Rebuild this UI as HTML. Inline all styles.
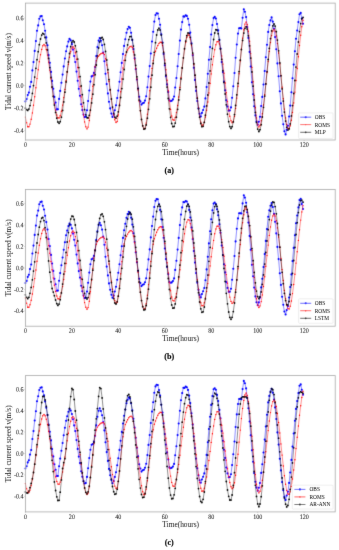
<!DOCTYPE html>
<html><head><meta charset="utf-8"><title>Tidal current speed</title>
<style>
html,body{margin:0;padding:0;background:#fff}
svg{display:block}
text{font-family:"Liberation Serif","DejaVu Serif",serif;fill:#222}
.tk{font-size:6.4px;fill:#111;stroke:#111;stroke-width:0.04px}
.ax{font-size:7.4px;fill:#111}
.cap{font-size:8.1px;font-weight:bold;fill:#000;stroke:#000;stroke-width:0.12px}
.lg{font-size:5.35px;fill:#000}
</style></head><body>
<svg width="339" height="550" viewBox="0 0 339 550">
<defs>
<marker id="mb" markerWidth="4" markerHeight="4" refX="2" refY="2" markerUnits="userSpaceOnUse"><circle cx="2" cy="2" r="1.05" fill="#0000ff"/></marker>
<marker id="mr" markerWidth="4" markerHeight="4" refX="2" refY="2" markerUnits="userSpaceOnUse"><circle cx="2" cy="2" r="0.68" fill="#ff0000"/></marker>
<marker id="mk" markerWidth="4" markerHeight="4" refX="2" refY="2" markerUnits="userSpaceOnUse"><circle cx="2" cy="2" r="0.88" fill="#000"/></marker>
<filter id="bl" x="0" y="0" width="339" height="550" filterUnits="userSpaceOnUse"><feConvolveMatrix order="3" kernelMatrix="0.0113 0.0838 0.0113 0.0838 0.6196 0.0838 0.0113 0.0838 0.0113" divisor="1" edgeMode="duplicate" preserveAlpha="false"/></filter>
<filter id="bt" x="0" y="0" width="339" height="550" filterUnits="userSpaceOnUse"><feConvolveMatrix order="3" kernelMatrix="0.004 0.046 0.004 0.046 0.8 0.046 0.004 0.046 0.004" divisor="1" edgeMode="duplicate" preserveAlpha="false"/></filter>
</defs>
<rect width="339" height="550" fill="#fff"/>

<g filter="url(#bl)">
<polyline fill="none" stroke="#0000ff" stroke-width="0.45" marker-start="url(#mb)" marker-mid="url(#mb)" marker-end="url(#mb)" points="25.4,101.4 26.6,99.1 27.7,95.0 28.9,92.6 30.0,86.8 31.2,81.9 32.4,70.4 33.5,62.1 34.7,50.9 35.9,41.1 37.0,30.7 38.2,25.4 39.3,18.8 40.5,16.4 41.7,16.0 42.8,20.3 44.0,24.2 45.1,30.8 46.3,37.4 47.5,45.2 48.6,55.1 49.8,62.7 51.0,71.9 52.1,80.9 53.3,88.7 54.4,96.9 55.6,102.6 56.8,109.4 57.9,109.3 59.1,98.9 60.2,90.9 61.4,82.7 62.6,74.6 63.7,66.4 64.9,58.5 66.1,51.2 67.2,46.4 68.4,41.6 69.5,38.9 70.7,40.3 71.9,44.1 73.0,49.6 74.2,56.0 75.3,62.0 76.5,71.6 77.7,80.7 78.8,88.8 80.0,95.7 81.2,104.3 82.3,110.0 83.5,114.5 84.6,117.1 85.8,116.8 87.0,110.3 88.1,101.0 89.3,90.5 90.4,81.6 91.6,76.4 92.8,75.7 93.9,72.9 95.1,67.0 96.3,56.1 97.4,47.0 98.6,40.6 99.7,38.1 100.9,40.8 102.1,45.3 103.2,52.6 104.4,61.3 105.5,73.7 106.7,84.1 107.9,93.4 109.0,101.8 110.2,108.4 111.4,113.6 112.5,116.9 113.7,114.5 114.8,110.2 116.0,105.2 117.2,98.0 118.3,90.6 119.5,81.8 120.6,72.3 121.8,62.9 123.0,54.1 124.1,45.9 125.3,39.3 126.5,32.8 127.6,29.1 128.8,26.7 129.9,27.8 131.1,32.8 132.3,40.1 133.4,49.1 134.6,58.3 135.7,69.0 136.9,79.5 138.1,88.6 139.2,96.8 140.4,101.4 141.5,104.6 142.7,103.2 143.9,102.7 145.0,100.6 146.2,96.3 147.4,87.3 148.5,76.6 149.7,66.1 150.8,53.5 152.0,41.5 153.2,31.7 154.3,21.6 155.5,15.0 156.6,13.3 157.8,13.5 159.0,18.8 160.1,24.7 161.3,34.4 162.5,42.6 163.6,53.9 164.8,65.2 165.9,76.2 167.1,84.4 168.3,91.9 169.4,100.2 170.6,101.1 171.7,100.7 172.9,99.4 174.1,96.5 175.2,87.5 176.4,78.0 177.6,66.3 178.7,54.0 179.9,40.6 181.0,29.6 182.2,22.1 183.4,16.4 184.5,16.6 185.7,15.3 186.8,15.9 188.0,18.7 189.2,24.7 190.3,32.6 191.5,43.2 192.7,55.1 193.8,67.7 195.0,79.9 196.1,90.9 197.3,101.0 198.5,108.4 199.6,113.8 200.8,116.5 201.9,112.9 203.1,110.0 204.3,106.6 205.4,98.4 206.6,87.0 207.8,73.8 208.9,59.8 210.1,47.0 211.2,34.5 212.4,25.1 213.6,18.1 214.7,16.9 215.9,18.5 217.0,24.0 218.2,30.4 219.4,39.8 220.5,48.5 221.7,62.0 222.9,72.1 224.0,81.6 225.2,90.2 226.3,100.3 227.5,106.5 228.7,110.6 229.8,110.5 231.0,107.4 232.1,97.8 233.3,86.3 234.5,73.0 235.6,57.7 236.8,44.5 238.0,33.6 239.1,28.3 240.3,28.1 241.4,28.5 242.6,17.8 243.8,9.2 244.9,11.7 246.1,17.1 247.2,27.1 248.4,37.9 249.6,51.9 250.7,66.5 251.9,82.3 253.1,94.2 254.2,106.2 255.4,115.4 256.5,121.5 257.7,124.7 258.9,121.7 260.0,116.7 261.2,106.0 262.3,96.9 263.5,84.5 264.7,71.0 265.8,57.2 267.0,44.8 268.2,31.9 269.3,25.0 270.5,20.4 271.6,17.4 272.8,21.6 274.0,28.8 275.1,37.1 276.3,49.3 277.4,63.4 278.6,76.3 279.8,91.2 280.9,103.4 282.1,115.7 283.3,124.2 284.4,131.3 285.6,134.4 286.7,129.7 287.9,125.8 289.1,116.5 290.2,105.6 291.4,92.3 292.5,78.3 293.7,64.6 294.9,51.2 296.0,38.7 297.2,30.5 298.4,22.1 299.5,14.3 300.7,12.9 301.8,18.6 303.0,23.7"/>
<polyline fill="none" stroke="#ff0000" stroke-width="0.45" marker-start="url(#mr)" marker-mid="url(#mr)" marker-end="url(#mr)" points="25.4,117.1 26.6,122.7 27.7,126.8 28.9,126.8 30.0,124.1 31.2,119.3 32.4,112.9 33.5,105.3 34.7,96.7 35.9,87.7 37.0,78.6 38.2,69.8 39.3,61.8 40.5,54.8 41.7,49.4 42.8,45.8 44.0,44.5 45.1,45.8 46.3,49.5 47.5,55.1 48.6,62.1 49.8,70.1 51.0,78.7 52.1,87.5 53.3,95.9 54.4,103.6 55.6,110.1 56.8,115.0 57.9,117.8 59.1,118.0 60.2,115.7 61.4,111.2 62.6,105.1 63.7,97.6 64.9,89.4 66.1,80.8 67.2,72.3 68.4,64.3 69.5,57.3 70.7,51.7 71.9,48.1 73.0,46.8 74.2,48.3 75.3,52.7 76.5,59.2 77.7,67.5 78.8,76.9 80.0,86.8 81.2,96.9 82.3,106.4 83.5,114.9 84.6,121.9 85.8,126.7 87.0,128.9 88.1,127.1 89.3,120.5 90.4,110.5 91.6,98.6 92.8,86.3 93.9,75.2 95.1,66.6 96.3,60.8 97.4,57.8 98.6,56.1 99.7,54.8 100.9,53.8 102.1,53.2 103.2,53.0 104.4,54.5 105.5,58.7 106.7,64.9 107.9,72.7 109.0,81.5 110.2,90.6 111.4,99.6 112.5,107.8 113.7,114.8 114.8,119.8 116.0,122.5 117.2,121.5 118.3,114.9 119.5,104.3 120.6,91.7 121.8,78.9 123.0,68.0 124.1,60.4 125.3,55.2 126.5,52.4 127.6,50.0 128.8,48.1 129.9,46.8 131.1,46.2 132.3,47.4 133.4,52.0 134.6,59.2 135.7,68.4 136.9,78.9 138.1,90.0 139.2,101.0 140.4,111.0 141.5,119.6 142.7,125.8 143.9,129.1 145.0,128.4 146.2,123.1 147.4,114.2 148.5,103.0 149.7,90.8 150.8,78.8 152.0,68.4 153.2,60.6 154.3,54.9 155.5,51.3 156.6,48.2 157.8,45.5 159.0,43.4 160.1,42.2 161.3,42.3 162.5,45.5 163.6,51.6 164.8,59.9 165.9,69.7 167.1,80.2 168.3,90.8 169.4,100.8 170.6,109.4 171.7,116.0 172.9,119.8 174.1,120.2 175.2,117.6 176.4,112.6 177.6,105.5 178.7,97.0 179.9,87.5 181.0,77.6 182.2,67.6 183.4,58.1 184.5,49.6 185.7,42.5 186.8,37.5 188.0,34.9 189.2,35.3 190.3,39.0 191.5,45.6 192.7,54.3 193.8,64.5 195.0,75.5 196.1,86.9 197.3,97.8 198.5,107.8 199.6,116.1 200.8,122.1 201.9,125.3 203.1,125.0 204.3,122.1 205.4,117.0 206.6,110.2 207.8,102.0 208.9,92.9 210.1,83.4 211.2,73.9 212.4,64.8 213.6,56.6 214.7,49.8 215.9,44.7 217.0,41.8 218.2,41.5 219.4,44.0 220.5,49.0 221.7,55.9 222.9,64.1 224.0,73.3 225.2,83.0 226.3,92.6 227.5,101.6 228.7,109.6 229.8,116.2 231.0,120.7 232.1,122.7 233.3,121.4 234.5,116.4 235.6,108.4 236.8,98.1 238.0,86.3 239.1,73.7 240.3,60.9 241.4,48.9 242.6,38.2 243.8,29.7 244.9,24.1 246.1,22.0 247.2,24.5 248.4,31.2 249.6,41.2 250.7,53.6 251.9,67.4 253.1,81.7 254.2,95.5 255.4,107.8 256.5,117.9 257.7,124.6 258.9,127.0 260.0,125.4 261.2,120.8 262.3,113.8 263.5,105.0 264.7,94.8 265.8,83.8 267.0,72.5 268.2,61.6 269.3,51.4 270.5,42.5 271.6,35.6 272.8,31.0 274.0,29.3 275.1,31.1 276.3,36.0 277.4,43.6 278.6,53.0 279.8,63.9 280.9,75.5 282.1,87.3 283.3,98.7 284.4,109.1 285.6,117.9 286.7,124.4 287.9,128.2 289.1,128.6 290.2,125.7 291.4,120.2 292.5,112.4 293.7,102.9 294.9,92.1 296.0,80.5 297.2,68.5 298.4,56.7 299.5,45.5 300.7,35.3 301.8,26.7 303.0,20.2"/>
<polyline fill="none" stroke="#000" stroke-width="0.45" marker-start="url(#mk)" marker-mid="url(#mk)" marker-end="url(#mk)" points="25.4,108.1 26.6,109.7 27.7,110.4 28.9,109.1 30.0,105.6 31.2,100.2 32.4,93.4 33.5,85.6 34.7,77.1 35.9,68.3 37.0,59.7 38.2,51.7 39.3,44.7 40.5,39.0 41.7,35.1 42.8,33.3 44.0,34.1 45.1,37.5 46.3,42.9 47.5,50.0 48.6,58.4 49.8,67.6 51.0,77.3 52.1,87.0 53.3,96.4 54.4,105.0 55.6,112.4 56.8,118.2 57.9,122.0 59.1,123.3 60.2,121.7 61.4,117.2 62.6,110.4 63.7,101.9 64.9,92.2 66.1,81.9 67.2,71.7 68.4,62.0 69.5,53.5 70.7,46.7 71.9,42.2 73.0,40.6 74.2,42.0 75.3,45.8 76.5,51.7 77.7,59.1 78.8,67.6 80.0,76.6 81.2,85.9 82.3,94.7 83.5,102.8 84.6,109.7 85.8,114.8 87.0,117.7 88.1,118.0 89.3,115.3 90.4,110.1 91.6,102.9 92.8,94.2 93.9,84.7 95.1,74.7 96.3,65.0 97.4,55.9 98.6,48.0 99.7,42.0 100.9,38.2 102.1,37.3 103.2,39.5 104.4,44.4 105.5,51.4 106.7,60.0 107.9,69.7 109.0,79.7 110.2,89.7 111.4,99.0 112.5,107.1 113.7,113.3 114.8,117.2 116.0,118.2 117.2,116.2 118.3,111.8 119.5,105.4 120.6,97.5 121.8,88.6 123.0,79.1 124.1,69.5 125.3,60.3 126.5,51.9 127.6,44.9 128.8,39.6 129.9,36.6 131.1,36.4 132.3,39.7 133.4,46.1 134.6,54.9 135.7,65.3 136.9,76.8 138.1,88.6 139.2,100.1 140.4,110.6 141.5,119.4 142.7,125.8 143.9,129.1 145.0,128.7 146.2,124.9 147.4,118.2 148.5,109.3 149.7,98.8 150.8,87.2 152.0,75.2 153.2,63.4 154.3,52.3 155.5,42.7 156.6,35.0 157.8,30.0 159.0,28.2 160.1,30.0 161.3,35.1 162.5,42.8 163.6,52.4 164.8,63.4 165.9,75.2 167.1,87.1 168.3,98.5 169.4,108.8 170.6,117.3 171.7,123.5 172.9,126.7 174.1,126.4 175.2,123.1 176.4,117.2 177.6,109.3 178.7,99.9 179.9,89.6 181.0,78.8 182.2,68.0 183.4,57.8 184.5,48.7 185.7,41.2 186.8,35.7 188.0,33.0 189.2,33.4 190.3,37.3 191.5,44.1 192.7,53.1 193.8,63.7 195.0,75.2 196.1,86.9 197.3,98.3 198.5,108.6 199.6,117.2 200.8,123.5 201.9,126.7 203.1,126.3 204.3,122.3 205.4,115.2 206.6,105.9 207.8,95.0 208.9,83.0 210.1,70.9 211.2,59.1 212.4,48.4 213.6,39.5 214.7,33.0 215.9,29.6 217.0,30.0 218.2,33.7 219.4,40.2 220.5,49.0 221.7,59.3 222.9,70.6 224.0,82.4 225.2,94.0 226.3,104.8 227.5,114.2 228.7,121.7 229.8,126.6 231.0,128.4 232.1,126.7 233.3,121.9 234.5,114.6 235.6,105.4 236.8,94.8 238.0,83.4 239.1,71.6 240.3,60.2 241.4,49.6 242.6,40.4 243.8,33.1 244.9,28.3 246.1,26.6 247.2,29.1 248.4,35.8 249.6,45.8 250.7,58.1 251.9,71.9 253.1,86.2 254.2,100.0 255.4,112.4 256.5,122.4 257.7,129.1 258.9,131.5 260.0,129.7 261.2,124.7 262.3,117.0 263.5,107.3 264.7,96.1 265.8,84.0 267.0,71.6 268.2,59.5 269.3,48.3 270.5,38.6 271.6,30.9 272.8,25.8 274.0,24.0 275.1,26.1 276.3,31.7 277.4,40.1 278.6,50.8 279.8,62.9 280.9,75.8 282.1,88.8 283.3,101.1 284.4,112.1 285.6,121.1 286.7,127.3 287.9,130.1 289.1,128.9 290.2,123.9 291.4,115.9 292.5,105.6 293.7,93.5 294.9,80.5 296.0,67.1 297.2,54.0 298.4,42.0 299.5,31.6 300.7,23.6 301.8,18.7 303.0,17.5"/>
<rect x="25.4" y="3.1" width="309.8" height="136.9" fill="none" stroke="#a8a8a8" stroke-width="0.8"/>
<line x1="25.4" y1="140.0" x2="25.4" y2="141.2" stroke="#a8a8a8" stroke-width="0.5"/>
<line x1="71.9" y1="140.0" x2="71.9" y2="141.2" stroke="#a8a8a8" stroke-width="0.5"/>
<line x1="118.3" y1="140.0" x2="118.3" y2="141.2" stroke="#a8a8a8" stroke-width="0.5"/>
<line x1="164.8" y1="140.0" x2="164.8" y2="141.2" stroke="#a8a8a8" stroke-width="0.5"/>
<line x1="211.2" y1="140.0" x2="211.2" y2="141.2" stroke="#a8a8a8" stroke-width="0.5"/>
<line x1="257.7" y1="140.0" x2="257.7" y2="141.2" stroke="#a8a8a8" stroke-width="0.5"/>
<line x1="304.2" y1="140.0" x2="304.2" y2="141.2" stroke="#a8a8a8" stroke-width="0.5"/>
<line x1="24.2" y1="18.1" x2="25.4" y2="18.1" stroke="#a8a8a8" stroke-width="0.5"/>
<line x1="24.2" y1="40.6" x2="25.4" y2="40.6" stroke="#a8a8a8" stroke-width="0.5"/>
<line x1="24.2" y1="63.1" x2="25.4" y2="63.1" stroke="#a8a8a8" stroke-width="0.5"/>
<line x1="24.2" y1="85.6" x2="25.4" y2="85.6" stroke="#a8a8a8" stroke-width="0.5"/>
<line x1="24.2" y1="108.1" x2="25.4" y2="108.1" stroke="#a8a8a8" stroke-width="0.5"/>
<line x1="24.2" y1="130.6" x2="25.4" y2="130.6" stroke="#a8a8a8" stroke-width="0.5"/>
<rect x="298.6" y="112.9" width="34.4" height="25.6" rx="0.8" fill="#fff" fill-opacity="0.8" stroke="#ddd" stroke-width="0.5"/>
<polyline fill="none" stroke="#0000ff" stroke-width="0.65" marker-mid="url(#mb)" points="300.2,117.2 305.7,117.2 311.2,117.2"/>
<polyline fill="none" stroke="#ff0000" stroke-width="0.65" marker-mid="url(#mr)" points="300.2,124.6 305.7,124.6 311.2,124.6"/>
<polyline fill="none" stroke="#000" stroke-width="0.65" marker-mid="url(#mk)" points="300.2,132.3 305.7,132.3 311.2,132.3"/>
<polyline fill="none" stroke="#0000ff" stroke-width="0.45" marker-start="url(#mb)" marker-mid="url(#mb)" marker-end="url(#mb)" points="25.4,283.0 26.6,280.9 27.7,276.9 28.9,274.7 30.0,269.1 31.2,264.5 32.4,253.5 33.5,245.6 34.7,234.9 35.9,225.6 37.0,215.6 38.2,210.6 39.3,204.3 40.5,202.0 41.7,201.6 42.8,205.7 44.0,209.5 45.1,215.8 46.3,222.1 47.5,229.5 48.6,239.0 49.8,246.1 51.0,254.9 52.1,263.5 53.3,270.9 54.4,278.8 55.6,284.2 56.8,290.7 57.9,290.6 59.1,280.7 60.2,273.1 61.4,265.2 62.6,257.5 63.7,249.7 64.9,242.2 66.1,235.2 67.2,230.6 68.4,226.1 69.5,223.5 70.7,224.8 71.9,228.4 73.0,233.6 74.2,239.8 75.3,245.5 76.5,254.6 77.7,263.4 78.8,271.1 80.0,277.6 81.2,285.8 82.3,291.2 83.5,295.5 84.6,298.1 85.8,297.7 87.0,291.5 88.1,282.7 89.3,272.6 90.4,264.2 91.6,259.2 92.8,258.6 93.9,255.9 95.1,250.3 96.3,239.9 97.4,231.2 98.6,225.1 99.7,222.7 100.9,225.3 102.1,229.6 103.2,236.5 104.4,244.8 105.5,256.7 106.7,266.6 107.9,275.4 109.0,283.4 110.2,289.8 111.4,294.7 112.5,297.8 113.7,295.5 114.8,291.5 116.0,286.7 117.2,279.8 118.3,272.8 119.5,264.3 120.6,255.3 121.8,246.3 123.0,237.9 124.1,230.2 125.3,223.8 126.5,217.7 127.6,214.1 128.8,211.8 129.9,212.9 131.1,217.7 132.3,224.6 133.4,233.2 134.6,242.0 135.7,252.2 136.9,262.2 138.1,270.9 139.2,278.7 140.4,283.0 141.5,286.1 142.7,284.8 143.9,284.3 145.0,282.3 146.2,278.2 147.4,269.6 148.5,259.4 149.7,249.4 150.8,237.4 152.0,226.0 153.2,216.6 154.3,207.0 155.5,200.7 156.6,199.1 157.8,199.3 159.0,204.3 160.1,209.9 161.3,219.2 162.5,227.0 163.6,237.8 164.8,248.5 165.9,259.1 167.1,266.9 168.3,274.0 169.4,282.0 170.6,282.8 171.7,282.4 172.9,281.1 174.1,278.4 175.2,269.9 176.4,260.7 177.6,249.6 178.7,237.9 179.9,225.1 181.0,214.6 182.2,207.4 183.4,202.0 184.5,202.2 185.7,201.0 186.8,201.5 188.0,204.2 189.2,209.9 190.3,217.5 191.5,227.6 192.7,239.0 193.8,251.0 195.0,262.6 196.1,273.1 197.3,282.7 198.5,289.7 199.6,294.9 200.8,297.4 201.9,294.1 203.1,291.3 204.3,288.0 205.4,280.2 206.6,269.4 207.8,256.8 208.9,243.4 210.1,231.2 211.2,219.2 212.4,210.3 213.6,203.6 214.7,202.5 215.9,204.1 217.0,209.2 218.2,215.3 219.4,224.3 220.5,232.7 221.7,245.5 222.9,255.1 224.0,264.2 225.2,272.4 226.3,282.1 227.5,287.9 228.7,291.8 229.8,291.7 231.0,288.8 232.1,279.7 233.3,268.7 234.5,256.0 235.6,241.4 236.8,228.8 238.0,218.4 239.1,213.3 240.3,213.2 241.4,213.5 242.6,203.4 243.8,195.2 244.9,197.6 246.1,202.7 247.2,212.3 248.4,222.6 249.6,235.9 250.7,249.8 251.9,264.8 253.1,276.2 254.2,287.6 255.4,296.4 256.5,302.2 257.7,305.3 258.9,302.4 260.0,297.6 261.2,287.4 262.3,278.8 263.5,267.0 264.7,254.1 265.8,240.9 267.0,229.1 268.2,216.8 269.3,210.2 270.5,205.8 271.6,203.0 272.8,207.0 274.0,213.9 275.1,221.8 276.3,233.4 277.4,246.9 278.6,259.1 279.8,273.3 280.9,284.9 282.1,296.7 283.3,304.8 284.4,311.5 285.6,314.5 286.7,310.1 287.9,306.3 289.1,297.5 290.2,287.0 291.4,274.4 292.5,261.1 293.7,247.9 294.9,235.2 296.0,223.3 297.2,215.5 298.4,207.4 299.5,200.0 300.7,198.7 301.8,204.1 303.0,209.0"/>
<polyline fill="none" stroke="#ff0000" stroke-width="0.45" marker-start="url(#mr)" marker-mid="url(#mr)" marker-end="url(#mr)" points="25.4,298.0 26.6,303.3 27.7,307.3 28.9,307.3 30.0,304.7 31.2,300.2 32.4,294.0 33.5,286.7 34.7,278.6 35.9,270.0 37.0,261.3 38.2,253.0 39.3,245.3 40.5,238.7 41.7,233.5 42.8,230.1 44.0,228.8 45.1,230.1 46.3,233.6 47.5,238.9 48.6,245.6 49.8,253.3 51.0,261.5 52.1,269.8 53.3,277.9 54.4,285.2 55.6,291.4 56.8,296.0 57.9,298.7 59.1,298.9 60.2,296.7 61.4,292.4 62.6,286.6 63.7,279.5 64.9,271.6 66.1,263.4 67.2,255.3 68.4,247.7 69.5,241.0 70.7,235.7 71.9,232.2 73.0,231.0 74.2,232.5 75.3,236.6 76.5,242.9 77.7,250.7 78.8,259.7 80.0,269.2 81.2,278.8 82.3,287.9 83.5,296.0 84.6,302.6 85.8,307.2 87.0,309.2 88.1,307.6 89.3,301.3 90.4,291.8 91.6,280.4 92.8,268.7 93.9,258.1 95.1,249.9 96.3,244.3 97.4,241.5 98.6,239.9 99.7,238.6 100.9,237.7 102.1,237.1 103.2,236.9 104.4,238.3 105.5,242.3 106.7,248.3 107.9,255.7 109.0,264.0 110.2,272.8 111.4,281.3 112.5,289.2 113.7,295.8 114.8,300.6 116.0,303.2 117.2,302.3 118.3,296.0 119.5,285.9 120.6,273.8 121.8,261.6 123.0,251.2 124.1,244.0 125.3,239.0 126.5,236.4 127.6,234.1 128.8,232.2 129.9,231.0 131.1,230.5 132.3,231.6 133.4,235.9 134.6,242.8 135.7,251.6 136.9,261.7 138.1,272.2 139.2,282.6 140.4,292.3 141.5,300.4 142.7,306.3 143.9,309.4 145.0,308.8 146.2,303.7 147.4,295.2 148.5,284.6 149.7,272.9 150.8,261.5 152.0,251.6 153.2,244.2 154.3,238.7 155.5,235.3 156.6,232.3 157.8,229.7 159.0,227.8 160.1,226.7 161.3,226.8 162.5,229.8 163.6,235.6 164.8,243.5 165.9,252.8 167.1,262.8 168.3,273.0 169.4,282.5 170.6,290.7 171.7,297.0 172.9,300.6 174.1,301.0 175.2,298.5 176.4,293.7 177.6,287.0 178.7,278.9 179.9,269.8 181.0,260.3 182.2,250.8 183.4,241.8 184.5,233.7 185.7,226.9 186.8,222.1 188.0,219.6 189.2,220.0 190.3,223.6 191.5,229.8 192.7,238.1 193.8,247.8 195.0,258.4 196.1,269.2 197.3,279.7 198.5,289.2 199.6,297.1 200.8,302.8 201.9,305.8 203.1,305.6 204.3,302.8 205.4,298.0 206.6,291.4 207.8,283.6 208.9,275.0 210.1,265.9 211.2,256.8 212.4,248.2 213.6,240.4 214.7,233.8 215.9,229.0 217.0,226.2 218.2,226.0 219.4,228.4 220.5,233.1 221.7,239.6 222.9,247.5 224.0,256.3 225.2,265.5 226.3,274.6 227.5,283.3 228.7,290.9 229.8,297.1 231.0,301.4 232.1,303.4 233.3,302.1 234.5,297.4 235.6,289.8 236.8,279.9 238.0,268.7 239.1,256.6 240.3,244.5 241.4,233.0 242.6,222.8 243.8,214.7 244.9,209.3 246.1,207.4 247.2,209.7 248.4,216.1 249.6,225.7 250.7,237.5 251.9,250.6 253.1,264.2 254.2,277.4 255.4,289.2 256.5,298.8 257.7,305.2 258.9,307.5 260.0,305.9 261.2,301.6 262.3,294.9 263.5,286.5 264.7,276.8 265.8,266.3 267.0,255.6 268.2,245.1 269.3,235.4 270.5,226.9 271.6,220.3 272.8,215.9 274.0,214.3 275.1,216.0 276.3,220.8 277.4,227.9 278.6,237.0 279.8,247.3 280.9,258.4 282.1,269.6 283.3,280.5 284.4,290.4 285.6,298.8 286.7,305.0 287.9,308.6 289.1,309.0 290.2,306.3 291.4,301.0 292.5,293.6 293.7,284.5 294.9,274.2 296.0,263.1 297.2,251.7 298.4,240.4 299.5,229.7 300.7,220.1 301.8,211.9 303.0,205.6"/>
<polyline fill="none" stroke="#000" stroke-width="0.45" marker-start="url(#mk)" marker-mid="url(#mk)" marker-end="url(#mk)" points="25.4,294.8 26.6,297.4 27.7,298.7 28.9,297.3 30.0,293.3 31.2,287.4 32.4,279.8 33.5,271.1 34.7,261.8 35.9,252.3 37.0,243.0 38.2,234.5 39.3,227.2 40.5,221.6 41.7,218.2 42.8,217.3 44.0,220.6 45.1,227.7 46.3,237.5 47.5,249.0 48.6,260.9 49.8,272.2 51.0,281.8 52.1,288.5 53.3,292.1 54.4,295.7 55.6,300.0 56.8,303.7 57.9,305.4 59.1,304.1 60.2,299.7 61.4,292.9 62.6,284.1 63.7,274.1 64.9,263.4 66.1,252.5 67.2,242.0 68.4,232.6 69.5,224.8 70.7,219.1 71.9,216.1 73.0,216.4 74.2,219.5 75.3,225.0 76.5,232.4 77.7,241.0 78.8,250.6 80.0,260.5 81.2,270.2 82.3,279.3 83.5,287.2 84.6,293.5 85.8,297.6 87.0,299.1 88.1,297.6 89.3,293.5 90.4,287.3 91.6,279.3 92.8,270.2 93.9,260.5 95.1,250.5 96.3,240.8 97.4,231.9 98.6,224.3 99.7,218.4 100.9,214.8 102.1,213.9 103.2,216.3 104.4,221.8 105.5,229.6 106.7,239.2 107.9,250.0 109.0,261.2 110.2,272.3 111.4,282.6 112.5,291.6 113.7,298.6 114.8,302.9 116.0,304.0 117.2,301.6 118.3,296.2 119.5,288.4 120.6,278.9 121.8,268.3 123.0,257.1 124.1,246.0 125.3,235.5 126.5,226.3 127.6,219.0 128.8,214.2 129.9,212.4 131.1,214.2 132.3,219.2 133.4,226.8 134.6,236.4 135.7,247.3 136.9,258.9 138.1,270.7 139.2,282.0 140.4,292.2 141.5,300.6 142.7,306.7 143.9,309.9 145.0,309.5 146.2,305.5 147.4,298.5 148.5,289.2 149.7,278.2 150.8,266.1 152.0,253.5 153.2,241.1 154.3,229.6 155.5,219.5 156.6,211.5 157.8,206.3 159.0,204.4 160.1,206.3 161.3,211.6 162.5,219.7 163.6,229.9 164.8,241.5 165.9,253.9 167.1,266.5 168.3,278.5 169.4,289.4 170.6,298.4 171.7,304.9 172.9,308.2 174.1,307.9 175.2,303.9 176.4,297.1 177.6,287.9 178.7,277.0 179.9,265.1 181.0,252.7 182.2,240.6 183.4,229.2 184.5,219.3 185.7,211.4 186.8,206.2 188.0,204.4 189.2,206.4 190.3,211.9 191.5,220.3 192.7,230.9 193.8,243.0 195.0,255.9 196.1,268.9 197.3,281.4 198.5,292.7 199.6,302.0 200.8,308.8 201.9,312.3 203.1,311.8 204.3,307.0 205.4,298.8 206.6,287.8 207.8,275.1 208.9,261.3 210.1,247.4 211.2,234.1 212.4,222.3 213.6,212.9 214.7,206.6 215.9,204.4 217.0,206.3 218.2,211.7 219.4,219.9 220.5,230.3 221.7,242.3 222.9,255.2 224.0,268.4 225.2,281.4 226.3,293.3 227.5,303.8 228.7,312.0 229.8,317.4 231.0,319.3 232.1,317.3 233.3,311.6 234.5,303.0 235.6,292.2 236.8,279.8 238.0,266.6 239.1,253.1 240.3,240.1 241.4,228.3 242.6,218.3 243.8,210.8 244.9,206.5 246.1,206.1 247.2,209.6 248.4,216.4 249.6,225.6 250.7,236.6 251.9,248.6 253.1,260.7 254.2,272.4 255.4,282.8 256.5,291.1 257.7,296.7 258.9,298.7 260.0,296.9 261.2,291.9 262.3,284.4 263.5,274.9 264.7,264.1 265.8,252.5 267.0,240.9 268.2,229.7 269.3,219.6 270.5,211.2 271.6,205.1 272.8,202.0 274.0,202.4 275.1,206.6 276.3,213.8 277.4,223.5 278.6,234.8 279.8,247.2 280.9,259.9 282.1,272.3 283.3,283.7 284.4,293.3 285.6,300.6 286.7,304.7 287.9,305.1 289.1,301.5 290.2,294.5 291.4,284.8 292.5,273.3 293.7,260.5 294.9,247.4 296.0,234.5 297.2,222.7 298.4,212.6 299.5,205.0 300.7,200.6 301.8,200.1 303.0,202.2"/>
<rect x="25.4" y="189.4" width="309.8" height="136.8" fill="none" stroke="#a8a8a8" stroke-width="0.8"/>
<line x1="25.4" y1="326.2" x2="25.4" y2="327.4" stroke="#a8a8a8" stroke-width="0.5"/>
<line x1="71.9" y1="326.2" x2="71.9" y2="327.4" stroke="#a8a8a8" stroke-width="0.5"/>
<line x1="118.3" y1="326.2" x2="118.3" y2="327.4" stroke="#a8a8a8" stroke-width="0.5"/>
<line x1="164.8" y1="326.2" x2="164.8" y2="327.4" stroke="#a8a8a8" stroke-width="0.5"/>
<line x1="211.2" y1="326.2" x2="211.2" y2="327.4" stroke="#a8a8a8" stroke-width="0.5"/>
<line x1="257.7" y1="326.2" x2="257.7" y2="327.4" stroke="#a8a8a8" stroke-width="0.5"/>
<line x1="304.2" y1="326.2" x2="304.2" y2="327.4" stroke="#a8a8a8" stroke-width="0.5"/>
<line x1="24.2" y1="203.6" x2="25.4" y2="203.6" stroke="#a8a8a8" stroke-width="0.5"/>
<line x1="24.2" y1="225.1" x2="25.4" y2="225.1" stroke="#a8a8a8" stroke-width="0.5"/>
<line x1="24.2" y1="246.5" x2="25.4" y2="246.5" stroke="#a8a8a8" stroke-width="0.5"/>
<line x1="24.2" y1="268.0" x2="25.4" y2="268.0" stroke="#a8a8a8" stroke-width="0.5"/>
<line x1="24.2" y1="289.5" x2="25.4" y2="289.5" stroke="#a8a8a8" stroke-width="0.5"/>
<line x1="24.2" y1="310.9" x2="25.4" y2="310.9" stroke="#a8a8a8" stroke-width="0.5"/>
<rect x="298.6" y="298.8" width="34.4" height="24.5" rx="0.8" fill="#fff" fill-opacity="0.8" stroke="#ddd" stroke-width="0.5"/>
<polyline fill="none" stroke="#0000ff" stroke-width="0.65" marker-mid="url(#mb)" points="300.2,303.3 305.7,303.3 311.2,303.3"/>
<polyline fill="none" stroke="#ff0000" stroke-width="0.65" marker-mid="url(#mr)" points="300.2,310.7 305.7,310.7 311.2,310.7"/>
<polyline fill="none" stroke="#000" stroke-width="0.65" marker-mid="url(#mk)" points="300.2,318.3 305.7,318.3 311.2,318.3"/>
<polyline fill="none" stroke="#0000ff" stroke-width="0.45" marker-start="url(#mb)" marker-mid="url(#mb)" marker-end="url(#mb)" points="25.4,468.5 26.6,466.3 27.7,462.4 28.9,460.2 30.0,454.6 31.2,450.0 32.4,439.0 33.5,431.1 34.7,420.5 35.9,411.2 37.0,401.3 38.2,396.2 39.3,390.0 40.5,387.7 41.7,387.3 42.8,391.4 44.0,395.2 45.1,401.4 46.3,407.7 47.5,415.1 48.6,424.5 49.8,431.7 51.0,440.4 52.1,449.0 53.3,456.4 54.4,464.3 55.6,469.7 56.8,476.1 57.9,476.0 59.1,466.2 60.2,458.6 61.4,450.7 62.6,443.0 63.7,435.2 64.9,427.7 66.1,420.8 67.2,416.2 68.4,411.7 69.5,409.1 70.7,410.5 71.9,414.0 73.0,419.2 74.2,425.4 75.3,431.1 76.5,440.1 77.7,448.9 78.8,456.6 80.0,463.1 81.2,471.3 82.3,476.7 83.5,481.0 84.6,483.5 85.8,483.1 87.0,476.9 88.1,468.2 89.3,458.1 90.4,449.7 91.6,444.7 92.8,444.1 93.9,441.5 95.1,435.8 96.3,425.4 97.4,416.8 98.6,410.7 99.7,408.3 100.9,411.0 102.1,415.2 103.2,422.1 104.4,430.4 105.5,442.2 106.7,452.1 107.9,460.9 109.0,468.9 110.2,475.2 111.4,480.1 112.5,483.3 113.7,481.0 114.8,476.9 116.0,472.2 117.2,465.3 118.3,458.3 119.5,449.9 120.6,440.8 121.8,431.9 123.0,423.5 124.1,415.8 125.3,409.5 126.5,403.3 127.6,399.8 128.8,397.5 129.9,398.5 131.1,403.3 132.3,410.2 133.4,418.8 134.6,427.6 135.7,437.7 136.9,447.7 138.1,456.4 139.2,464.2 140.4,468.5 141.5,471.6 142.7,470.3 143.9,469.8 145.0,467.7 146.2,463.7 147.4,455.1 148.5,444.9 149.7,435.0 150.8,423.0 152.0,411.6 153.2,402.2 154.3,392.7 155.5,386.4 156.6,384.8 157.8,385.0 159.0,390.0 160.1,395.6 161.3,404.8 162.5,412.6 163.6,423.3 164.8,434.1 165.9,444.6 167.1,452.4 168.3,459.5 169.4,467.4 170.6,468.3 171.7,467.8 172.9,466.6 174.1,463.9 175.2,455.3 176.4,446.2 177.6,435.1 178.7,423.5 179.9,410.7 181.0,400.2 182.2,393.1 183.4,387.7 184.5,387.9 185.7,386.6 186.8,387.2 188.0,389.9 189.2,395.6 190.3,403.1 191.5,413.2 192.7,424.5 193.8,436.5 195.0,448.1 196.1,458.6 197.3,468.2 198.5,475.2 199.6,480.3 200.8,482.8 201.9,479.5 203.1,476.7 204.3,473.4 205.4,465.7 206.6,454.9 207.8,442.3 208.9,429.0 210.1,416.8 211.2,404.9 212.4,396.0 213.6,389.3 214.7,388.2 215.9,389.8 217.0,394.9 218.2,401.0 219.4,409.9 220.5,418.3 221.7,431.1 222.9,440.7 224.0,449.7 225.2,457.9 226.3,467.5 227.5,473.4 228.7,477.3 229.8,477.1 231.0,474.2 232.1,465.1 233.3,454.2 234.5,441.5 235.6,427.0 236.8,414.4 238.0,404.0 239.1,399.0 240.3,398.8 241.4,399.2 242.6,389.1 243.8,380.9 244.9,383.3 246.1,388.4 247.2,397.9 248.4,408.2 249.6,421.5 250.7,435.3 251.9,450.3 253.1,461.7 254.2,473.1 255.4,481.8 256.5,487.6 257.7,490.7 258.9,487.8 260.0,483.0 261.2,472.9 262.3,464.3 263.5,452.5 264.7,439.6 265.8,426.5 267.0,414.7 268.2,402.4 269.3,395.9 270.5,391.5 271.6,388.7 272.8,392.7 274.0,399.5 275.1,407.4 276.3,419.0 277.4,432.4 278.6,444.6 279.8,458.8 280.9,470.4 282.1,482.1 283.3,490.2 284.4,496.9 285.6,499.9 286.7,495.5 287.9,491.7 289.1,482.9 290.2,472.5 291.4,459.9 292.5,446.6 293.7,433.5 294.9,420.8 296.0,408.9 297.2,401.1 298.4,393.1 299.5,385.7 300.7,384.4 301.8,389.8 303.0,394.7"/>
<polyline fill="none" stroke="#ff0000" stroke-width="0.45" marker-start="url(#mr)" marker-mid="url(#mr)" marker-end="url(#mr)" points="25.4,483.5 26.6,488.7 27.7,492.6 28.9,492.6 30.0,490.1 31.2,485.6 32.4,479.5 33.5,472.2 34.7,464.1 35.9,455.5 37.0,446.9 38.2,438.5 39.3,430.9 40.5,424.2 41.7,419.0 42.8,415.7 44.0,414.4 45.1,415.7 46.3,419.2 47.5,424.5 48.6,431.2 49.8,438.8 51.0,447.0 52.1,455.3 53.3,463.3 54.4,470.6 55.6,476.8 56.8,481.4 57.9,484.1 59.1,484.3 60.2,482.1 61.4,477.9 62.6,472.0 63.7,464.9 64.9,457.1 66.1,448.9 67.2,440.8 68.4,433.2 69.5,426.6 70.7,421.3 71.9,417.8 73.0,416.6 74.2,418.1 75.3,422.2 76.5,428.4 77.7,436.3 78.8,445.2 80.0,454.7 81.2,464.2 82.3,473.3 83.5,481.4 84.6,488.0 85.8,492.6 87.0,494.6 88.1,493.0 89.3,486.7 90.4,477.2 91.6,465.9 92.8,454.2 93.9,443.6 95.1,435.4 96.3,429.9 97.4,427.1 98.6,425.5 99.7,424.2 100.9,423.3 102.1,422.7 103.2,422.5 104.4,423.9 105.5,427.9 106.7,433.8 107.9,441.2 109.0,449.6 110.2,458.3 111.4,466.8 112.5,474.6 113.7,481.2 114.8,486.1 116.0,488.6 117.2,487.7 118.3,481.4 119.5,471.3 120.6,459.3 121.8,447.1 123.0,436.7 124.1,429.5 125.3,424.6 126.5,422.0 127.6,419.7 128.8,417.8 129.9,416.6 131.1,416.1 132.3,417.2 133.4,421.5 134.6,428.4 135.7,437.2 136.9,447.2 138.1,457.7 139.2,468.1 140.4,477.7 141.5,485.8 142.7,491.7 143.9,494.8 145.0,494.2 146.2,489.1 147.4,480.7 148.5,470.0 149.7,458.4 150.8,447.0 152.0,437.1 153.2,429.8 154.3,424.3 155.5,420.9 156.6,417.9 157.8,415.3 159.0,413.4 160.1,412.3 161.3,412.4 162.5,415.4 163.6,421.2 164.8,429.1 165.9,438.3 167.1,448.4 168.3,458.5 169.4,467.9 170.6,476.1 171.7,482.4 172.9,486.0 174.1,486.4 175.2,484.0 176.4,479.1 177.6,472.4 178.7,464.4 179.9,455.3 181.0,445.8 182.2,436.4 183.4,427.3 184.5,419.2 185.7,412.6 186.8,407.7 188.0,405.3 189.2,405.7 190.3,409.2 191.5,415.4 192.7,423.7 193.8,433.4 195.0,443.9 196.1,454.7 197.3,465.1 198.5,474.6 199.6,482.5 200.8,488.2 201.9,491.2 203.1,491.0 204.3,488.2 205.4,483.4 206.6,476.9 207.8,469.1 208.9,460.5 210.1,451.4 211.2,442.4 212.4,433.8 213.6,426.0 214.7,419.4 215.9,414.6 217.0,411.8 218.2,411.6 219.4,414.0 220.5,418.7 221.7,425.2 222.9,433.1 224.0,441.8 225.2,451.0 226.3,460.1 227.5,468.7 228.7,476.4 229.8,482.5 231.0,486.8 232.1,488.8 233.3,487.5 234.5,482.8 235.6,475.2 236.8,465.4 238.0,454.2 239.1,442.1 240.3,430.1 241.4,418.6 242.6,408.5 243.8,400.4 244.9,395.0 246.1,393.0 247.2,395.4 248.4,401.7 249.6,411.3 250.7,423.0 251.9,436.2 253.1,449.7 254.2,462.9 255.4,474.6 256.5,484.2 257.7,490.6 258.9,492.9 260.0,491.3 261.2,487.0 262.3,480.3 263.5,471.9 264.7,462.2 265.8,451.8 267.0,441.1 268.2,430.6 269.3,421.0 270.5,412.6 271.6,405.9 272.8,401.6 274.0,400.0 275.1,401.7 276.3,406.4 277.4,413.5 278.6,422.5 279.8,432.9 280.9,443.9 282.1,455.1 283.3,466.0 284.4,475.8 285.6,484.2 286.7,490.4 287.9,494.0 289.1,494.3 290.2,491.7 291.4,486.4 292.5,479.0 293.7,470.0 294.9,459.7 296.0,448.6 297.2,437.2 298.4,426.0 299.5,415.3 300.7,405.7 301.8,397.5 303.0,391.3"/>
<polyline fill="none" stroke="#000" stroke-width="0.45" marker-start="url(#mk)" marker-mid="url(#mk)" marker-end="url(#mk)" points="25.4,492.0 26.6,492.9 27.7,492.9 28.9,491.1 30.0,487.7 31.2,483.4 32.4,478.6 33.5,472.5 34.7,464.2 35.9,454.7 37.0,444.7 38.2,435.3 39.3,424.8 40.5,413.0 41.7,402.5 42.8,396.4 44.0,396.4 45.1,400.0 46.3,406.4 47.5,415.0 48.6,425.2 49.8,436.5 51.0,448.4 52.1,460.3 53.3,471.6 54.4,481.9 55.6,490.5 56.8,496.8 57.9,500.5 59.1,500.3 60.2,492.2 61.4,479.9 62.6,468.5 63.7,462.7 64.9,458.7 66.1,448.6 67.2,434.4 68.4,420.0 69.5,408.4 70.7,396.6 71.9,388.5 73.0,389.7 74.2,399.5 75.3,411.0 76.5,420.2 77.7,430.5 78.8,441.3 80.0,452.3 81.2,463.0 82.3,472.8 83.5,481.3 84.6,487.9 85.8,492.3 87.0,493.8 88.1,491.8 89.3,486.1 90.4,477.5 91.6,466.9 92.8,455.0 93.9,442.5 95.1,430.2 96.3,418.8 97.4,408.6 98.6,396.4 99.7,387.6 100.9,388.6 102.1,397.9 103.2,408.9 104.4,417.9 105.5,427.9 106.7,438.6 107.9,449.6 109.0,460.3 110.2,470.3 111.4,479.2 112.5,486.5 113.7,491.7 114.8,494.3 116.0,493.8 117.2,489.2 118.3,481.3 119.5,470.9 120.6,458.8 121.8,445.8 123.0,432.7 124.1,420.3 125.3,409.5 126.5,401.0 127.6,395.7 128.8,394.4 129.9,397.0 131.1,402.7 132.3,411.0 133.4,421.2 134.6,432.7 135.7,444.9 136.9,457.1 138.1,468.8 139.2,479.3 140.4,488.1 141.5,494.4 142.7,497.6 143.9,497.2 145.0,493.5 146.2,486.9 147.4,478.0 148.5,467.4 149.7,455.7 150.8,443.6 152.0,431.4 153.2,419.9 154.3,409.7 155.5,401.2 156.6,395.1 157.8,391.9 159.0,392.4 160.1,396.9 161.3,404.6 162.5,414.9 163.6,426.9 164.8,440.1 165.9,453.5 167.1,466.4 168.3,478.2 169.4,488.0 170.6,495.1 171.7,498.8 172.9,498.5 174.1,494.8 175.2,488.3 176.4,479.5 177.6,469.1 178.7,457.6 179.9,445.5 181.0,433.6 182.2,422.2 183.4,412.1 184.5,403.7 185.7,397.7 186.8,394.6 188.0,395.1 189.2,399.3 190.3,406.6 191.5,416.4 192.7,428.0 193.8,440.7 195.0,453.8 196.1,466.6 197.3,478.4 198.5,488.6 199.6,496.5 200.8,501.4 201.9,502.6 203.1,499.3 204.3,492.0 205.4,481.6 206.6,469.0 207.8,455.1 208.9,440.7 210.1,426.7 211.2,414.1 212.4,403.7 213.6,396.4 214.7,393.1 215.9,394.1 217.0,398.3 218.2,405.2 219.4,414.1 220.5,424.6 221.7,436.0 222.9,448.0 224.0,459.9 225.2,471.3 226.3,481.5 227.5,490.0 228.7,496.3 229.8,500.0 231.0,500.1 232.1,495.0 233.3,485.5 234.5,472.7 235.6,458.0 236.8,442.5 238.0,427.5 239.1,414.2 240.3,403.9 241.4,397.9 242.6,396.8 243.8,396.8 244.9,396.8 246.1,396.8 247.2,397.8 248.4,403.5 249.6,413.4 250.7,426.2 251.9,440.9 253.1,456.4 254.2,471.5 255.4,485.3 256.5,496.4 257.7,503.9 258.9,506.7 260.0,504.0 261.2,496.7 262.3,485.8 263.5,472.2 264.7,457.0 265.8,441.2 267.0,425.9 268.2,411.9 269.3,400.3 270.5,392.2 271.6,388.6 272.8,389.7 274.0,394.6 275.1,402.6 276.3,412.9 277.4,425.0 278.6,438.2 279.8,451.8 280.9,465.3 282.1,477.9 283.3,489.0 284.4,498.0 285.6,504.2 286.7,506.9 287.9,505.4 289.1,499.3 290.2,489.5 291.4,477.1 292.5,462.9 293.7,447.8 294.9,432.8 296.0,418.9 297.2,406.9 298.4,397.8 299.5,392.6 300.7,391.7 301.8,392.3 303.0,393.3"/>
<rect x="25.4" y="375.6" width="309.8" height="136.3" fill="none" stroke="#a8a8a8" stroke-width="0.8"/>
<line x1="25.4" y1="511.9" x2="25.4" y2="513.1" stroke="#a8a8a8" stroke-width="0.5"/>
<line x1="71.9" y1="511.9" x2="71.9" y2="513.1" stroke="#a8a8a8" stroke-width="0.5"/>
<line x1="118.3" y1="511.9" x2="118.3" y2="513.1" stroke="#a8a8a8" stroke-width="0.5"/>
<line x1="164.8" y1="511.9" x2="164.8" y2="513.1" stroke="#a8a8a8" stroke-width="0.5"/>
<line x1="211.2" y1="511.9" x2="211.2" y2="513.1" stroke="#a8a8a8" stroke-width="0.5"/>
<line x1="257.7" y1="511.9" x2="257.7" y2="513.1" stroke="#a8a8a8" stroke-width="0.5"/>
<line x1="304.2" y1="511.9" x2="304.2" y2="513.1" stroke="#a8a8a8" stroke-width="0.5"/>
<line x1="24.2" y1="389.3" x2="25.4" y2="389.3" stroke="#a8a8a8" stroke-width="0.5"/>
<line x1="24.2" y1="410.7" x2="25.4" y2="410.7" stroke="#a8a8a8" stroke-width="0.5"/>
<line x1="24.2" y1="432.1" x2="25.4" y2="432.1" stroke="#a8a8a8" stroke-width="0.5"/>
<line x1="24.2" y1="453.5" x2="25.4" y2="453.5" stroke="#a8a8a8" stroke-width="0.5"/>
<line x1="24.2" y1="474.9" x2="25.4" y2="474.9" stroke="#a8a8a8" stroke-width="0.5"/>
<line x1="24.2" y1="496.3" x2="25.4" y2="496.3" stroke="#a8a8a8" stroke-width="0.5"/>
<rect x="292.3" y="485.2" width="40.8" height="23.9" rx="0.8" fill="#fff" fill-opacity="0.8" stroke="#ddd" stroke-width="0.5"/>
<polyline fill="none" stroke="#0000ff" stroke-width="0.65" marker-mid="url(#mb)" points="294.4,489.4 299.9,489.4 305.4,489.4"/>
<polyline fill="none" stroke="#ff0000" stroke-width="0.65" marker-mid="url(#mr)" points="294.4,496.9 299.9,496.9 305.4,496.9"/>
<polyline fill="none" stroke="#000" stroke-width="0.65" marker-mid="url(#mk)" points="294.4,504.5 299.9,504.5 305.4,504.5"/>
</g>
<g filter="url(#bt)">
<text class="tk" transform="translate(25.4,146.8) rotate(0.2) scale(0.95,1.04)" text-anchor="middle">0</text>
<text class="tk" transform="translate(71.9,146.8) rotate(0.2) scale(0.95,1.04)" text-anchor="middle">20</text>
<text class="tk" transform="translate(118.3,146.8) rotate(0.2) scale(0.95,1.04)" text-anchor="middle">40</text>
<text class="tk" transform="translate(164.8,146.8) rotate(0.2) scale(0.95,1.04)" text-anchor="middle">60</text>
<text class="tk" transform="translate(211.2,146.8) rotate(0.2) scale(0.95,1.04)" text-anchor="middle">80</text>
<text class="tk" transform="translate(257.7,146.8) rotate(0.2) scale(0.95,1.04)" text-anchor="middle">100</text>
<text class="tk" transform="translate(304.2,146.8) rotate(0.2) scale(0.95,1.04)" text-anchor="middle">120</text>
<text class="tk" transform="translate(23.5,20.3) rotate(0.2) scale(0.95,1.04)" text-anchor="end">0.6</text>
<text class="tk" transform="translate(23.5,42.8) rotate(0.2) scale(0.95,1.04)" text-anchor="end">0.4</text>
<text class="tk" transform="translate(23.5,65.3) rotate(0.2) scale(0.95,1.04)" text-anchor="end">0.2</text>
<text class="tk" transform="translate(23.5,87.8) rotate(0.2) scale(0.95,1.04)" text-anchor="end">0.0</text>
<text class="tk" transform="translate(23.5,110.3) rotate(0.2) scale(0.95,1.04)" text-anchor="end">-0.2</text>
<text class="tk" transform="translate(23.5,132.8) rotate(0.2) scale(0.95,1.04)" text-anchor="end">-0.4</text>
<text class="ax" x="180.7" y="154.6" text-anchor="middle">Time(hours)</text>
<text class="ax" style="font-size:7.3px" transform="translate(11.3,71.6) rotate(-90)" text-anchor="middle">Tidal current speed v(m/s)</text>
<text class="cap" x="169.2" y="173.2" text-anchor="middle">(a)</text>
<text class="lg" x="314.8" y="119.1">OBS</text>
<text class="lg" x="314.8" y="126.5">ROMS</text>
<text class="lg" x="314.8" y="134.2">MLP</text>
<text class="tk" transform="translate(25.4,332.8) rotate(0.2) scale(0.95,1.04)" text-anchor="middle">0</text>
<text class="tk" transform="translate(71.9,332.8) rotate(0.2) scale(0.95,1.04)" text-anchor="middle">20</text>
<text class="tk" transform="translate(118.3,332.8) rotate(0.2) scale(0.95,1.04)" text-anchor="middle">40</text>
<text class="tk" transform="translate(164.8,332.8) rotate(0.2) scale(0.95,1.04)" text-anchor="middle">60</text>
<text class="tk" transform="translate(211.2,332.8) rotate(0.2) scale(0.95,1.04)" text-anchor="middle">80</text>
<text class="tk" transform="translate(257.7,332.8) rotate(0.2) scale(0.95,1.04)" text-anchor="middle">100</text>
<text class="tk" transform="translate(304.2,332.8) rotate(0.2) scale(0.95,1.04)" text-anchor="middle">120</text>
<text class="tk" transform="translate(23.5,205.8) rotate(0.2) scale(0.95,1.04)" text-anchor="end">0.6</text>
<text class="tk" transform="translate(23.5,227.3) rotate(0.2) scale(0.95,1.04)" text-anchor="end">0.4</text>
<text class="tk" transform="translate(23.5,248.7) rotate(0.2) scale(0.95,1.04)" text-anchor="end">0.2</text>
<text class="tk" transform="translate(23.5,270.2) rotate(0.2) scale(0.95,1.04)" text-anchor="end">0.0</text>
<text class="tk" transform="translate(23.5,291.7) rotate(0.2) scale(0.95,1.04)" text-anchor="end">-0.2</text>
<text class="tk" transform="translate(23.5,313.1) rotate(0.2) scale(0.95,1.04)" text-anchor="end">-0.4</text>
<text class="ax" x="180.7" y="340.6" text-anchor="middle">Time(hours)</text>
<text class="ax" style="font-size:7.3px" transform="translate(11.3,257.9) rotate(-90)" text-anchor="middle">Tidal current speed v(m/s)</text>
<text class="cap" x="169.2" y="359.3" text-anchor="middle">(b)</text>
<text class="lg" x="314.8" y="305.2">OBS</text>
<text class="lg" x="314.8" y="312.6">ROMS</text>
<text class="lg" x="314.8" y="320.2">LSTM</text>
<text class="tk" transform="translate(25.4,519.0) rotate(0.2) scale(0.95,1.04)" text-anchor="middle">0</text>
<text class="tk" transform="translate(71.9,519.0) rotate(0.2) scale(0.95,1.04)" text-anchor="middle">20</text>
<text class="tk" transform="translate(118.3,519.0) rotate(0.2) scale(0.95,1.04)" text-anchor="middle">40</text>
<text class="tk" transform="translate(164.8,519.0) rotate(0.2) scale(0.95,1.04)" text-anchor="middle">60</text>
<text class="tk" transform="translate(211.2,519.0) rotate(0.2) scale(0.95,1.04)" text-anchor="middle">80</text>
<text class="tk" transform="translate(257.7,519.0) rotate(0.2) scale(0.95,1.04)" text-anchor="middle">100</text>
<text class="tk" transform="translate(304.2,519.0) rotate(0.2) scale(0.95,1.04)" text-anchor="middle">120</text>
<text class="tk" transform="translate(23.5,391.5) rotate(0.2) scale(0.95,1.04)" text-anchor="end">0.6</text>
<text class="tk" transform="translate(23.5,412.9) rotate(0.2) scale(0.95,1.04)" text-anchor="end">0.4</text>
<text class="tk" transform="translate(23.5,434.3) rotate(0.2) scale(0.95,1.04)" text-anchor="end">0.2</text>
<text class="tk" transform="translate(23.5,455.7) rotate(0.2) scale(0.95,1.04)" text-anchor="end">0.0</text>
<text class="tk" transform="translate(23.5,477.1) rotate(0.2) scale(0.95,1.04)" text-anchor="end">-0.2</text>
<text class="tk" transform="translate(23.5,498.5) rotate(0.2) scale(0.95,1.04)" text-anchor="end">-0.4</text>
<text class="ax" x="180.7" y="526.8" text-anchor="middle">Time(hours)</text>
<text class="ax" style="font-size:7.3px" transform="translate(11.3,443.9) rotate(-90)" text-anchor="middle">Tidal current speed v(m/s)</text>
<text class="cap" x="169.2" y="544.7" text-anchor="middle">(c)</text>
<text class="lg" x="309.5" y="491.3">OBS</text>
<text class="lg" x="309.5" y="498.8">ROMS</text>
<text class="lg" x="309.5" y="506.4">AR-ANN</text>
</g>
</svg></body></html>
